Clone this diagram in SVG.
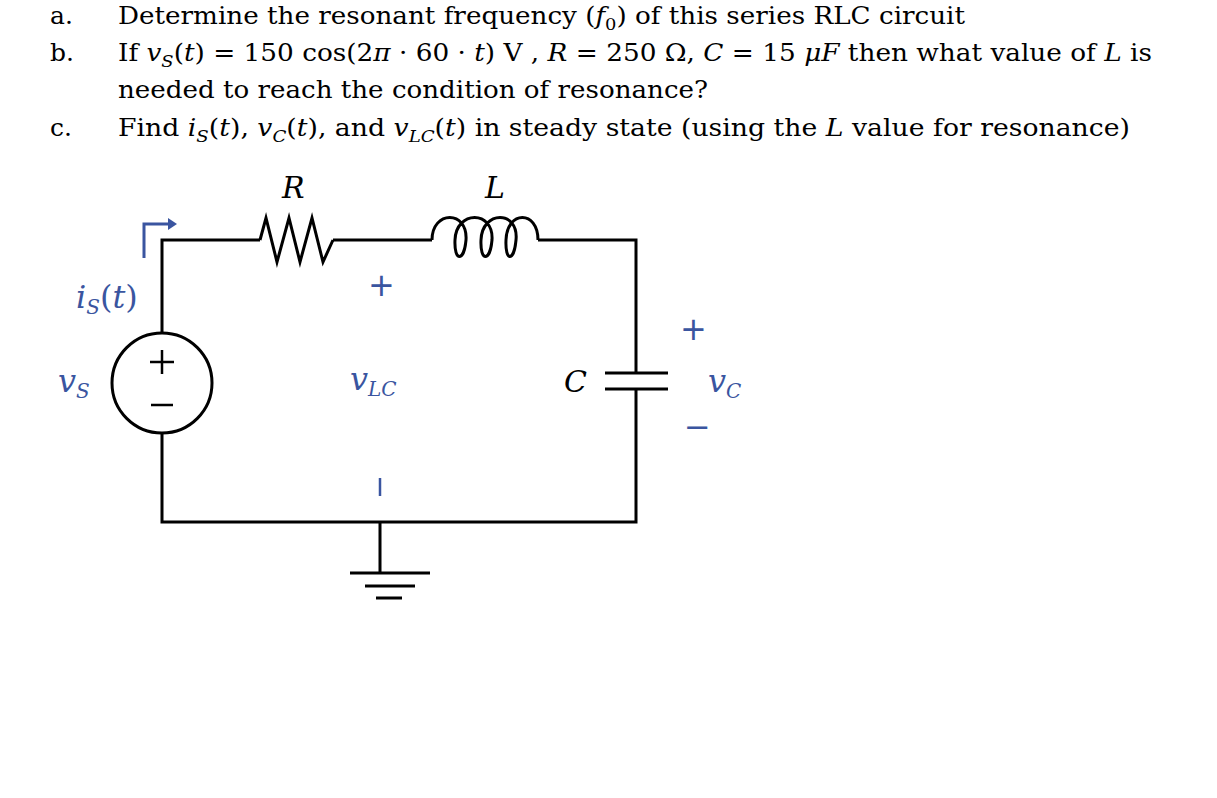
<svg xmlns="http://www.w3.org/2000/svg" width="1217" height="798" viewBox="0 0 1217 798">
<style>
.t{font-family:"DejaVu Serif","Liberation Serif",serif;font-size:25px;fill:#000}
.i{font-style:italic}
.b{fill:#3a55a0}
.w{fill:none;stroke:#000;stroke-width:3;stroke-linejoin:miter}
.l{font-family:"DejaVu Serif",serif;font-size:30px;font-style:italic}
.s{font-family:"DejaVu Serif",serif;fill:#3a55a0;font-style:italic;font-size:32px}
.p{font-family:"DejaVu Sans",sans-serif;fill:#3a55a0;font-size:32px}
</style>
<rect width="1217" height="798" fill="#fff"/>
<g id="text">
<text class="t" x="50" y="24">a.</text>
<text class="t" x="118" y="24" textLength="847" lengthAdjust="spacingAndGlyphs">Determine the resonant frequency (<tspan class="i">f</tspan><tspan font-size="17" dy="6">0</tspan><tspan dy="-6">) of this series RLC circuit</tspan></text>
<text class="t" x="50" y="61">b.</text>
<text class="t" x="118" y="61" textLength="1034" lengthAdjust="spacingAndGlyphs">If <tspan class="i">v</tspan><tspan class="i" font-size="17" dy="6">S</tspan><tspan dy="-6">(</tspan><tspan class="i">t</tspan>) = 150 cos(2<tspan class="i">π</tspan> · 60 · <tspan class="i">t</tspan>) V , <tspan class="i">R</tspan> = 250 Ω, <tspan class="i">C</tspan> = 15 <tspan class="i">μF</tspan> then what value of <tspan class="i">L</tspan> is</text>
<text class="t" x="118" y="98" textLength="590" lengthAdjust="spacingAndGlyphs">needed to reach the condition of resonance?</text>
<text class="t" x="50" y="136">c.</text>
<text class="t" x="118" y="136" textLength="1012" lengthAdjust="spacingAndGlyphs">Find <tspan class="i">i</tspan><tspan class="i" font-size="17" dy="6">S</tspan><tspan dy="-6">(</tspan><tspan class="i">t</tspan>), <tspan class="i">v</tspan><tspan class="i" font-size="17" dy="6">C</tspan><tspan dy="-6">(</tspan><tspan class="i">t</tspan>), and <tspan class="i">v</tspan><tspan class="i" font-size="17" dy="6">LC</tspan><tspan dy="-6">(</tspan><tspan class="i">t</tspan>) in steady state (using the <tspan class="i">L</tspan> value for resonance)</text>
</g>
<g id="connectors">
<path class="w" d="M260 240H162V333M162 433V522H636V389M636 373V240H538M432 240H333"/>
<path class="w" d="M380 522V572M350 573H430M365 586H415M376 598H402"/>
<path d="M144 258V224H169" fill="none" stroke="#3a55a0" stroke-width="3"/>
<path d="M168 218L177 224L168 230Z" fill="#3a55a0"/>
</g>
<g id="R">
<path class="w" d="M260 240L266 218L277 262L289 218L300 262L312 218L323 262L333 240"/>
<text class="l" x="282" y="198">R</text>
</g>
<g id="L">
<path class="w" d="M432 240C432 210 468 210 466 240C464 262 454 262 455 240C456 210 494 210 492 240C490 262 480 262 481 240C482 210 519 210 516 240C514 262 505 262 506 240C507 210 538 210 538 240"/>
<text class="l" x="485" y="198">L</text>
</g>
<g id="C">
<path class="w" d="M605 373H668M605 389H668"/>
<text class="l" x="564" y="392">C</text>
<text class="p" x="680" y="340">+</text>
<text class="s" x="708" y="392">v<tspan font-size="20" dy="6">C</tspan></text>
<text class="p" x="684" y="438">−</text>
</g>
<g id="VS">
<circle cx="162" cy="383" r="50" fill="none" stroke="#000" stroke-width="3"/>
<path d="M150 362H174M162 350V374M151 405H173" stroke="#000" stroke-width="2.5"/>
<text class="s" x="58" y="392">v<tspan font-size="20" dy="6">S</tspan></text>
<text class="s" x="76" y="308">i<tspan font-size="20" dy="6">S</tspan><tspan font-style="normal" dy="-6">(</tspan>t<tspan font-style="normal">)</tspan></text>
</g>
<g id="VLC">
<text class="p" x="368" y="296">+</text>
<text class="s" x="350" y="390">v<tspan font-size="20" dy="6">LC</tspan></text>
<path d="M380 478V496" stroke="#3a55a0" stroke-width="2.5"/>
</g>
</svg>
